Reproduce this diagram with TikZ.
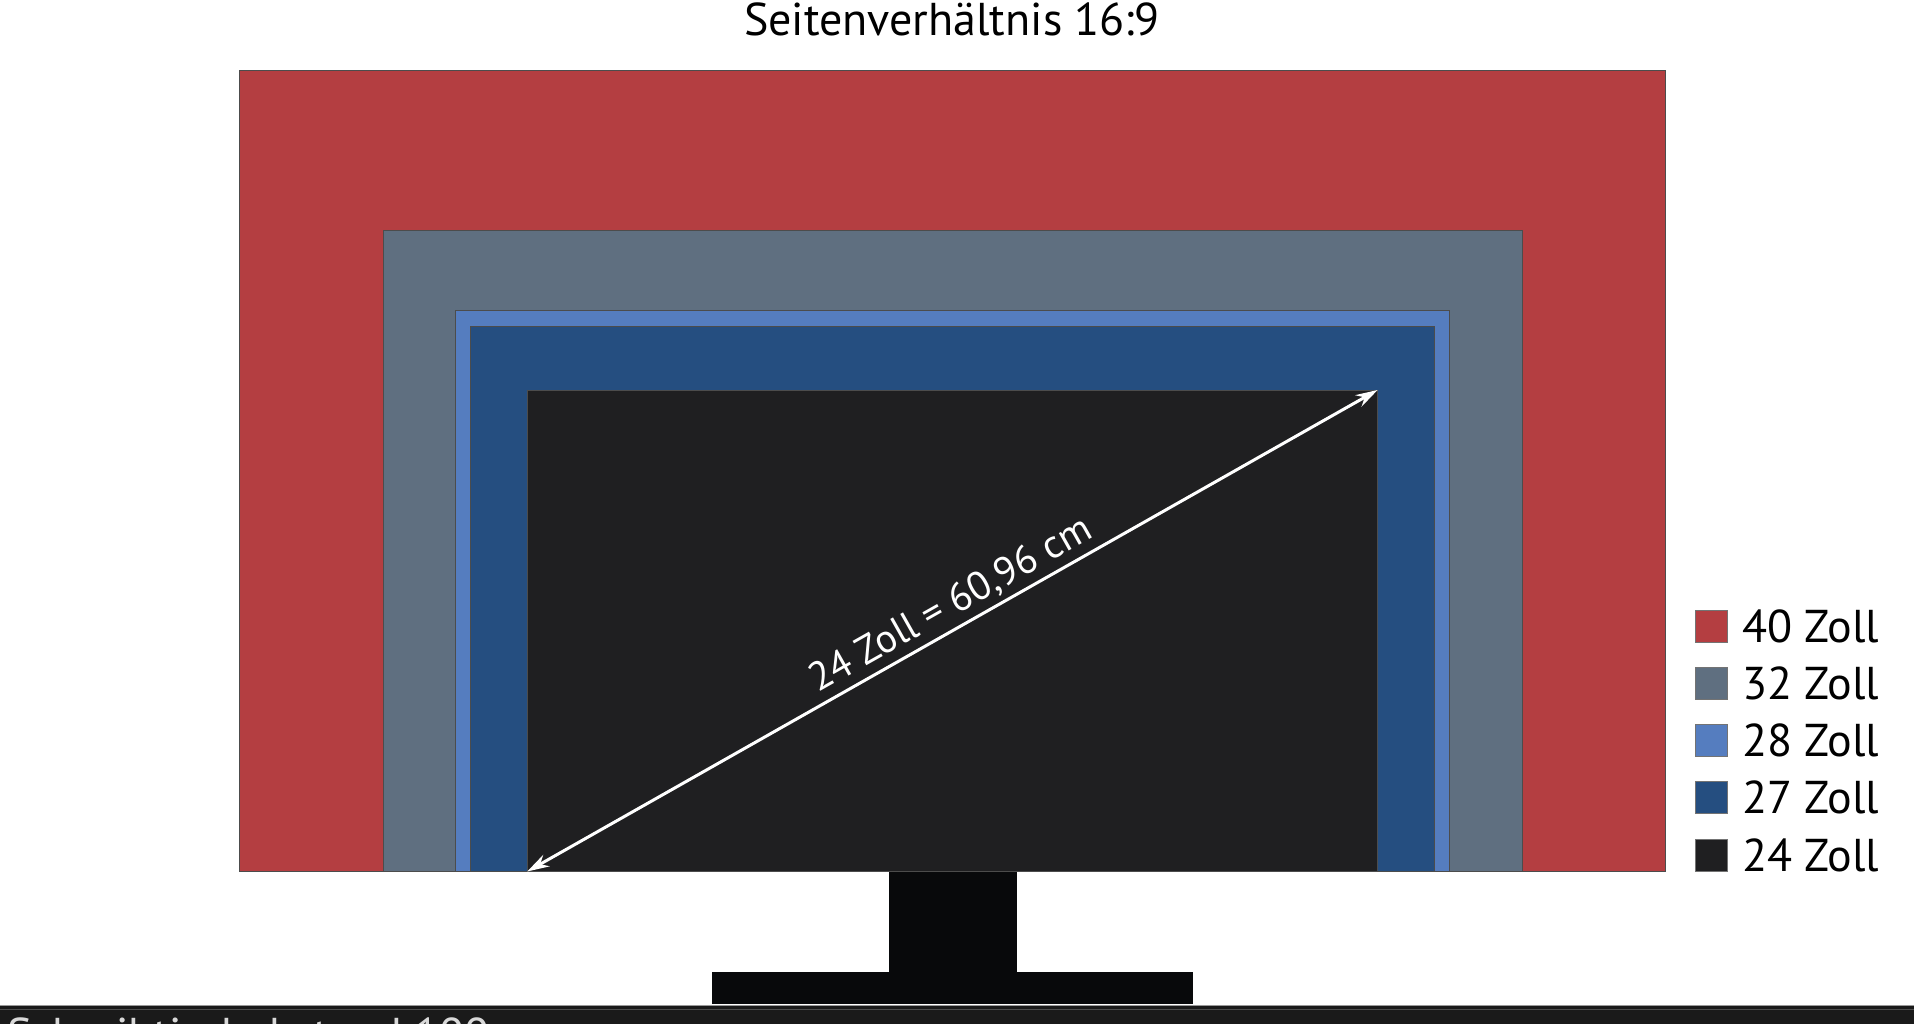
\documentclass[tikz,border=0pt]{standalone}
\usepackage{fontspec}
\setmainfont{PT Sans}
\usetikzlibrary{arrows.meta}
\definecolor{c40}{HTML}{B43E41}
\definecolor{c32}{HTML}{5F6F80}
\definecolor{c28}{HTML}{557DBF}
\definecolor{c27}{HTML}{254E80}
\definecolor{c24}{HTML}{1F1F21}
\definecolor{standc}{HTML}{08090B}
\definecolor{stripc}{HTML}{1A1A1A}
\begin{document}
\begin{tikzpicture}[x=1pt,y=-1pt,
  panel/.style={draw=black!70, line width=0.8pt, inner sep=0pt, outer sep=0pt, anchor=south},
  standpart/.style={fill=standc, inner sep=0pt, outer sep=0pt, anchor=north},
  legsq/.style={draw=black!55, line width=0.6pt, minimum size=32pt, inner sep=0pt, outer sep=0pt, anchor=north west},
  legtxt/.style={font=\fontsize{46}{50}\selectfont, anchor=base west, inner sep=0pt},
  bigtxt/.style={font=\fontsize{46}{50}\selectfont, inner sep=0pt},
  dimarrow/.style={draw=white, line width=3pt, {Stealth[length=22pt,width=13pt]}-{Stealth[length=22pt,width=13pt]}}
  ]
\useasboundingbox (0,0) rectangle (1914,1024);
\clip (0,0) rectangle (1914,1024);
\fill[white] (0,0) rectangle (1914,1024);

% title
\node[bigtxt, anchor=base] (title) at (952,36) {Seitenverhältnis 16:9};

% panels
\node[panel, fill=c40, minimum width=1426pt, minimum height=801.5pt] (s40) at (952,871.5) {};
\node[panel, fill=c32, minimum width=1139pt, minimum height=641.5pt] (s32) at (952.5,871.5) {};
\node[panel, fill=c28, minimum width=994pt, minimum height=561pt] (s28) at (952.4,871.5) {};
\node[panel, fill=c27, minimum width=963.3pt, minimum height=545.5pt] (s27) at (952.4,871.5) {};
\node[panel, fill=c24, minimum width=850.4pt, minimum height=481.5pt] (s24) at (952.4,871.5) {};

% diagonal
\draw[dimarrow] (s24.south west) -- (s24.north east);
\node[inner sep=0pt, text=white, rotate=29.45, font=\fontsize{40}{44}\selectfont] (diag) at (951,605) {24 Zoll = 60,96 cm};

% stand
\node[standpart, minimum width=128pt, minimum height=100pt] (neck) at (953,872) {};
\node[standpart, minimum width=481pt, minimum height=32pt] (base) at (952.5,972) {};

% bottom strip
\fill[stripc] (0,1005) rectangle (1914,1030);
\draw[gray!80, line width=1.2pt] (0,1005.6) -- (1914,1005.6);
\draw[black!70, line width=1pt] (0,1009) -- (1914,1009);
\node[font=\fontsize{46}{50}\selectfont, text=white!85!black, anchor=north west, inner sep=0pt] (strip) at (7,1018) {Schreibtischabstand 100 cm};

% legend
\foreach \c/\t [count=\i from 0] in {c40/40, c32/32, c28/28, c27/27, c24/24}{
  \node[legsq, fill=\c] (sq\t) at (1695,610+57.25*\i) {};
  \node[legtxt] (lt\t) at (1742,642+57.25*\i) {\t\ Zoll};
}
\end{tikzpicture}
\end{document}
